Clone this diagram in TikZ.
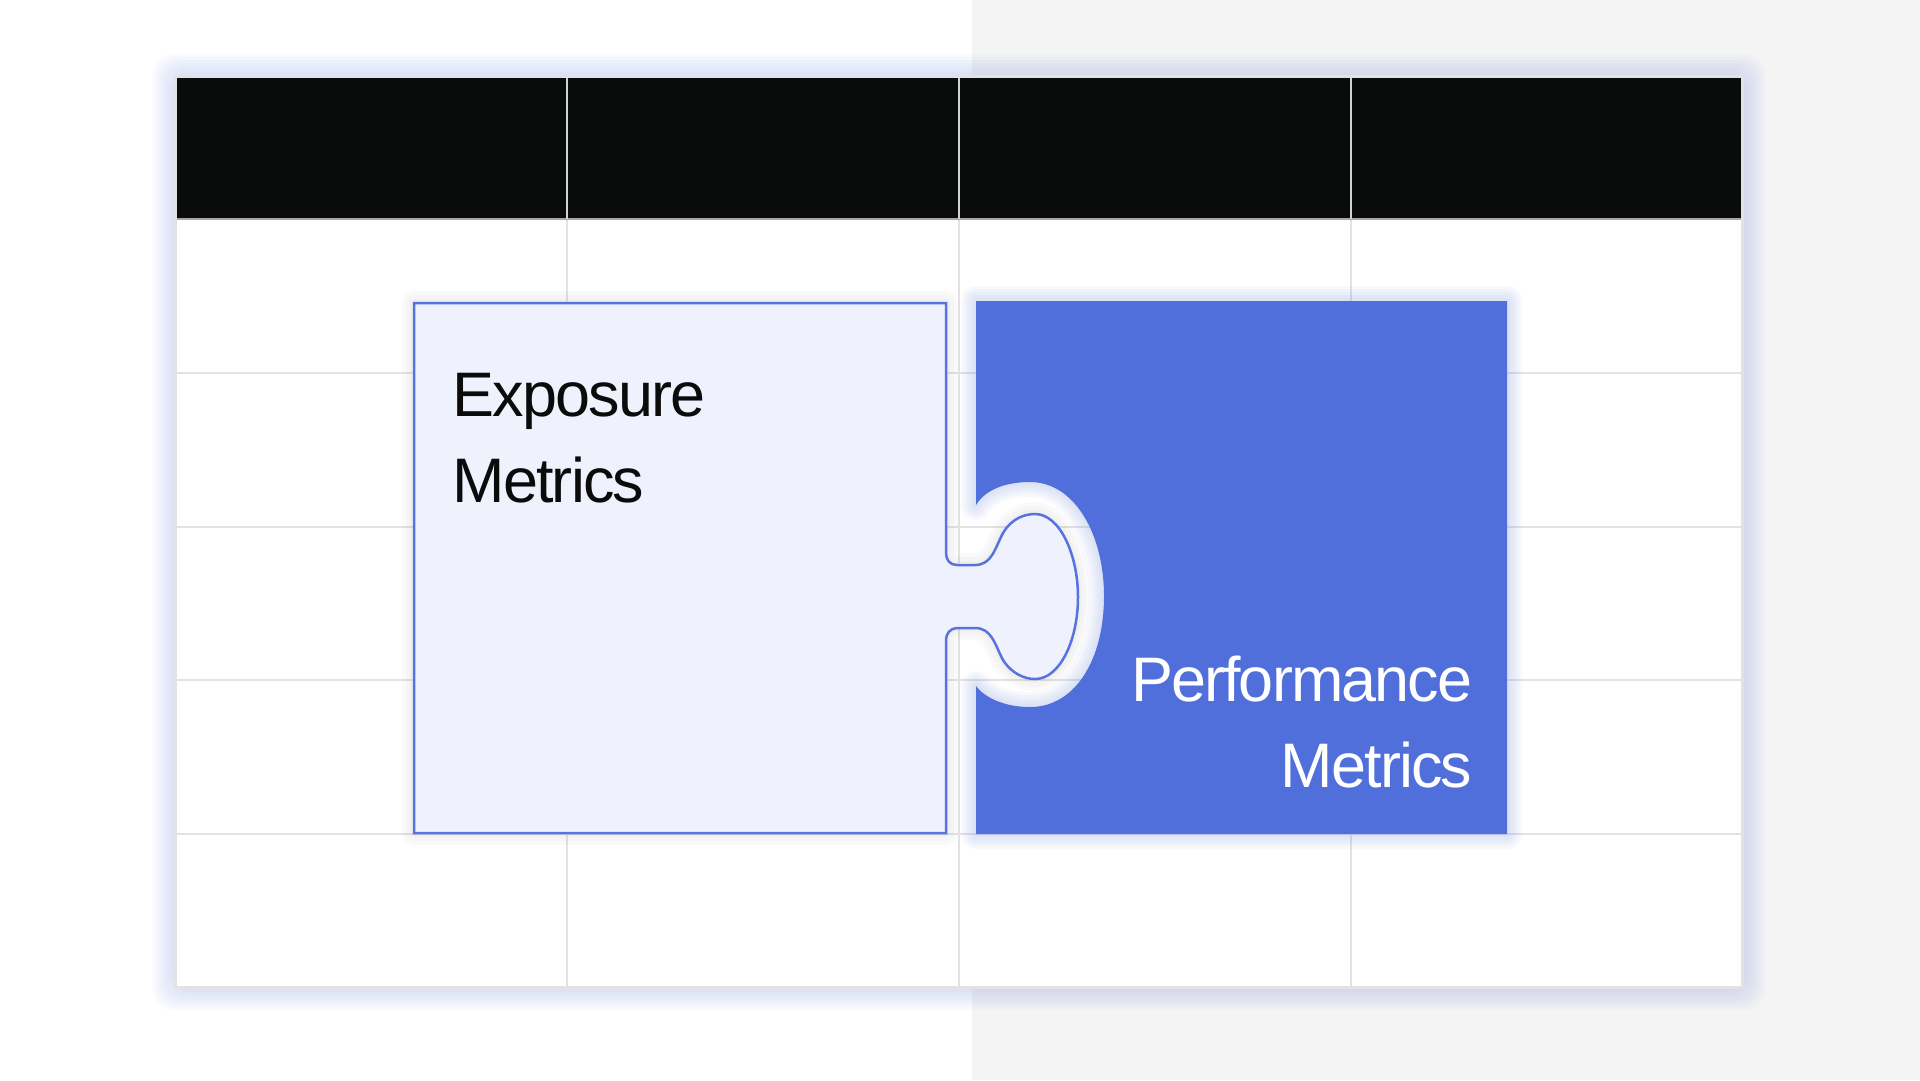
\documentclass[tikz,border=0pt]{standalone}
\usepackage{fontspec}
\setmainfont{Liberation Sans}
\definecolor{bluefill}{HTML}{506FDB}
\definecolor{lightfill}{HTML}{EFF1FD}
\definecolor{outlineblue}{HTML}{5873E0}
\definecolor{headblack}{HTML}{0A0C0B}
\definecolor{gridgray}{HTML}{E2E2E2}
\definecolor{bgright}{HTML}{F4F4F4}
\definecolor{glowblue}{HTML}{7F95E6}
\definecolor{textblack}{HTML}{0B0B0B}
\begin{document}
\begin{tikzpicture}[x=0.1mm,y=-0.1mm,
  gridline/.style={draw=gridgray, line width=0.25mm},
  labeltext/.style={inner sep=0pt, font=\fontsize{17.9pt}{24.5pt}\selectfont\addfontfeature{LetterSpace=-3}},
]
\useasboundingbox (0,0) rectangle (1920,1080);
% background halves
\fill[white] (0,0) rectangle (972,1080);
\fill[bgright] (972,0) rectangle (1920,1080);
% table glow
\foreach \d in {3,6,...,21}
  \fill[glowblue, opacity=0.04, rounded corners=2mm] (174-\d,75-\d) rectangle (1744+\d,989+\d);
% table body
\filldraw[fill=white, draw=gridgray, line width=0.3mm] (175.5,76.5) rectangle (1742.5,987.5);
% header
\fill[headblack] (177,78) rectangle (1741,219);
\draw[draw=gray!70, line width=0.2mm] (177,219) -- (1741,219);
\foreach \x in {567,959,1351}
  \draw[draw=gray!35, line width=0.2mm] (\x,78) -- (\x,219);
% grid
\foreach \y in {373,527,680,834}
  \draw[gridline] (177,\y) -- (1741,\y);
\foreach \x in {567,959,1351}
  \draw[gridline] (\x,220) -- (\x,987);
% blue piece path
\def\bluepath{(976,301) -- (1507,301) -- (1507,834) -- (976,834) -- (976,686)
  .. controls (985,698) and (1005,707) .. (1030,707)
  .. controls (1075,707) and (1104,660) .. (1104,596)
  .. controls (1104,535) and (1075,482) .. (1030,482)
  .. controls (1005,482) and (985,490) .. (976,505) -- cycle}
\def\leftpath{(414,303) -- (946,303) -- (946,553)
  .. controls (946,560) and (950,565) .. (957,565) -- (975,565)
  .. controls (992,565) and (995,548) .. (1003,533)
  .. controls (1012,518) and (1025,514) .. (1035,514)
  .. controls (1060,514) and (1078,555) .. (1078,597)
  .. controls (1078,640) and (1060,679) .. (1035,679)
  .. controls (1025,679) and (1012,674) .. (1003,660)
  .. controls (995,645) and (992,628) .. (975,628) -- (957,628)
  .. controls (950,628) and (946,634) .. (946,640) -- (946,833) -- (414,833) -- cycle}
% glows of the pieces
\foreach \w in {3mm,2.4mm,1.8mm,1.2mm,0.6mm}
  \draw[glowblue, opacity=0.055, line width=\w, line join=round] \bluepath;
\foreach \w in {2.4mm,1.6mm,0.8mm}
  \draw[gray, opacity=0.035, line width=\w, line join=round] \leftpath;
% pieces
\fill[bluefill] \bluepath;
\filldraw[fill=lightfill, draw=outlineblue, line width=0.25mm] \leftpath;
% labels
\node[labeltext, text=textblack, align=left, anchor=north west] (exposure) at (452,372) {Exposure\\Metrics};
\node[labeltext, text=white, align=right, anchor=north east] (performance) at (1473,655) {Performance\\Metrics};
\end{tikzpicture}
\end{document}
